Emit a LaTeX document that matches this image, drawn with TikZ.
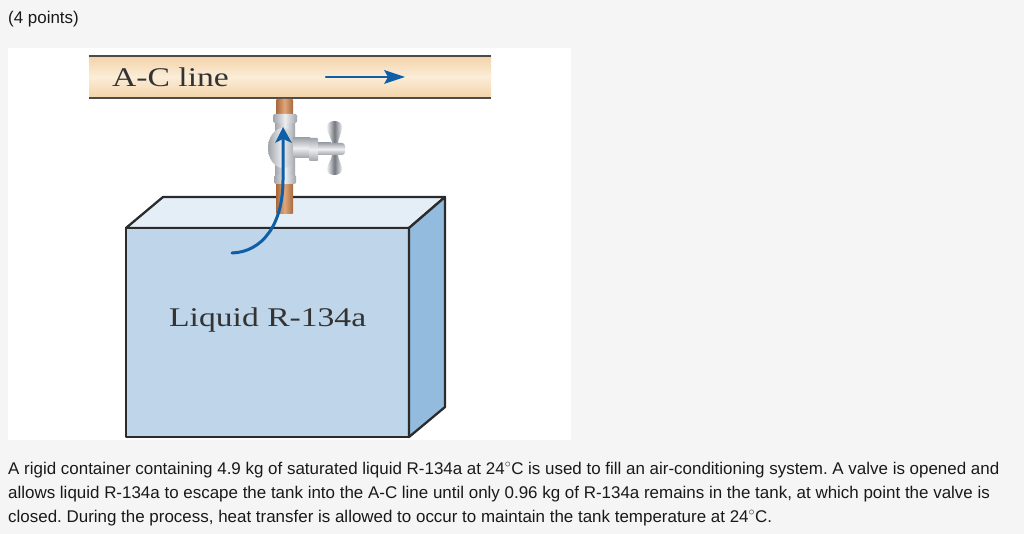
\documentclass[tikz,border=0pt]{standalone}
\usepackage{fontspec}
\setmainfont{Liberation Sans}
\newfontfamily\figserif[FakeStretch=1.245]{Liberation Serif}
\usetikzlibrary{arrows.meta}
\definecolor{pagebg}{HTML}{F5F5F5}
\definecolor{tankfront}{HTML}{BFD5EA}
\definecolor{tanktop}{HTML}{E4EEF7}
\definecolor{tankside}{HTML}{92BBDD}
\definecolor{lineink}{HTML}{2B2B2B}
\definecolor{flowblue}{HTML}{0F5FA8}
\definecolor{pipeedge}{HTML}{F3D3A8}
\definecolor{pipemid}{HTML}{FBEDD8}
\definecolor{copperA}{HTML}{A9683C}
\definecolor{copperB}{HTML}{E0A67C}
\definecolor{steelA}{HTML}{A0A5AB}
\definecolor{steelB}{HTML}{EDEEF0}
\definecolor{steelC}{HTML}{74797F}
\tikzset{
  tankline/.style={draw=lineink,line width=2.3pt,line join=round},
  pipeline/.style={draw=lineink!85,line width=1.4pt},
  flow/.style={draw=flowblue,line width=3pt,line cap=round},
  steel/.style={left color=steelA,right color=steelA,middle color=steelB},
  steelv/.style={top color=steelA,bottom color=steelA,middle color=steelB},
  wing/.style={left color=steelB,right color=steelB,middle color=steelC},
  figlabel/.style={inner sep=0pt,text=black!80,font=\figserif\fontsize{27}{27}\selectfont,anchor=base west},
  body/.style={inner sep=0pt,anchor=base west,text=black!90,font=\frenchspacing\fontsize{16.95}{16.95}\selectfont}
}
\newcommand{\degC}{$^{\circ}$C}
\begin{document}
\begin{tikzpicture}[x=1pt,y=-1pt]
\useasboundingbox (0,0) rectangle (1024,534);
\fill[pagebg] (0,0) rectangle (1024,534);
\fill[white] (8,48) rectangle (571,440);
% A-C pipe
\shade[top color=pipeedge,bottom color=pipeedge,middle color=pipemid] (89,56) rectangle (491,98);
\draw[pipeline] (89,56) -- (491,56) (89,98) -- (491,98);
% tank
\filldraw[tankline,fill=tanktop] (126,228) -- (163,197) -- (445,197) -- (409,228) -- cycle;
\filldraw[tankline,fill=tankfront] (126,228) rectangle (409,437);
\filldraw[tankline,fill=tankside] (409,228) -- (445,197) -- (445,407) -- (409,437) -- cycle;
% stem
\shade[left color=copperA,right color=copperA,middle color=copperB,rounded corners=1pt] (276,99) rectangle (293,214);
% valve
\shade[steel] (275,120) rectangle (295,180);
\shade[steel] (283,128) .. controls (274,128) and (268,138) .. (268,148) .. controls (268,158) and (274,168) .. (283,168) .. controls (292,168) and (296,158) .. (296,148) .. controls (296,138) and (292,128) .. (283,128) -- cycle;
\shade[steelv] (293,138) rectangle (310,158);
\shade[steel,rounded corners=1.5pt] (273,114) rectangle (297,123);
\shade[steel,rounded corners=1.5pt] (274,175) rectangle (296,184);
\shade[steelv,rounded corners=1pt] (309,138) rectangle (318,161);
\shade[steelv] (318,143) rectangle (331,155);
% handle
\shade[wing] (332,145) .. controls (332,137) and (327,134) .. (327,127) .. controls (327,119) and (342,119) .. (342,127) .. controls (342,134) and (338,137) .. (338,145) -- cycle;
\shade[wing] (332,153) .. controls (332,161) and (327,164) .. (327,169) .. controls (327,177) and (342,177) .. (342,169) .. controls (342,164) and (338,161) .. (338,153) -- cycle;
\shade[steelv,rounded corners=3pt] (329,143) rectangle (345,155);
% flow arrows
\coordinate (pipeflowstart) at (326,77);
\coordinate (pipeflowend) at (388,77);
\coordinate (pipeflowtip) at (405,77);
\draw[flow,line width=2.5pt] (pipeflowstart) -- (pipeflowend);
\fill[flowblue] (pipeflowtip) -- (384,70) -- (388,77) -- (384,84) -- cycle;
\coordinate (tankflowstart) at (232,253);
\coordinate (tankflowmid) at (283,180);
\coordinate (tankflowend) at (283,140);
\coordinate (tankflowtip) at (283,127);
\draw[flow] (tankflowstart) .. controls (262,252) and (283,225) .. (tankflowmid) -- (tankflowend);
\fill[flowblue] (tankflowtip) -- (275,143) -- (283,139) -- (292,143) -- cycle;
% texts
\node[body] (header) at (8,24) {(4 points)};
\node[figlabel] (acline) at (112,87) {A-C line};
\node[figlabel] (liquid) at (169,326) {Liquid R-134a};
\node[body] (lineone) at (8,474) {A rigid container containing 4.9 kg of saturated liquid R-134a at 24\degC{} is used to fill an air-conditioning system. A valve is opened and};
\node[body] (linetwo) at (8,498) {allows liquid R-134a to escape the tank into the A-C line until only 0.96 kg of R-134a remains in the tank, at which point the valve is};
\node[body] (linethree) at (8,522) {closed. During the process, heat transfer is allowed to occur to maintain the tank temperature at 24\degC.};
\end{tikzpicture}
\end{document}
